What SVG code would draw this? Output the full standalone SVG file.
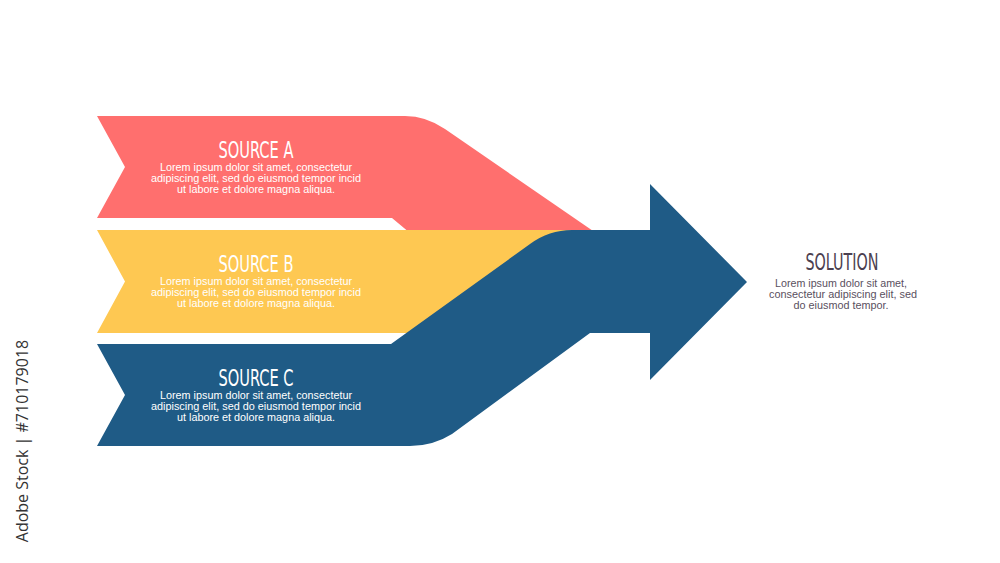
<svg xmlns="http://www.w3.org/2000/svg" width="1000" height="563" viewBox="0 0 1000 563">
<style>
.title{font-family:"DejaVu Sans Condensed","DejaVu Sans",sans-serif;font-size:23px;fill:#ffffff;text-anchor:middle}
.body{font-family:"Liberation Sans",Arial,sans-serif;font-size:10px;fill:#ffffff;text-anchor:middle}
.stitle{font-family:"DejaVu Sans Condensed","DejaVu Sans",sans-serif;font-size:23px;fill:#4b4050;text-anchor:middle}
.sbody{font-family:"Liberation Sans",Arial,sans-serif;font-size:10px;fill:#5a5060;text-anchor:middle}
</style>
<rect width="1000" height="563" fill="#ffffff"/>
<g id="source-a">
<path d="M97,116 H405 Q426,116 445,129 L596,233 L410,233 L392,218 H97 L125,167 Z" fill="#FF6F6E"/>
</g>
<g id="source-b">
<path d="M97,230 H580 V333 H97 L125,281.5 Z" fill="#FEC852"/>
</g>
<g id="connectors">
<path id="source-c-arrow" d="M97,344 H391 L530,244 Q549,230 572,230 H650 V184 L747,282 L650,380 V333 H590 L452,434 Q433,446 410,446 H97 L125,395 Z" fill="#1F5B86"/>
</g>
<g id="source-a-text">
<text class="title" x="256" y="158" textLength="75" lengthAdjust="spacingAndGlyphs">SOURCE A</text>
<text class="body" x="256" y="170.5" textLength="192" lengthAdjust="spacingAndGlyphs">Lorem ipsum dolor sit amet, consectetur</text>
<text class="body" x="256" y="181.5" textLength="210" lengthAdjust="spacingAndGlyphs">adipiscing elit, sed do eiusmod tempor incid</text>
<text class="body" x="256" y="192.5" textLength="158" lengthAdjust="spacingAndGlyphs">ut labore et dolore magna aliqua.</text>
</g>
<g id="source-b-text">
<text class="title" x="256" y="272" textLength="75" lengthAdjust="spacingAndGlyphs">SOURCE B</text>
<text class="body" x="256" y="284.5" textLength="192" lengthAdjust="spacingAndGlyphs">Lorem ipsum dolor sit amet, consectetur</text>
<text class="body" x="256" y="295.5" textLength="210" lengthAdjust="spacingAndGlyphs">adipiscing elit, sed do eiusmod tempor incid</text>
<text class="body" x="256" y="306.5" textLength="158" lengthAdjust="spacingAndGlyphs">ut labore et dolore magna aliqua.</text>
</g>
<g id="source-c">
<text class="title" x="256" y="386" textLength="75" lengthAdjust="spacingAndGlyphs">SOURCE C</text>
<text class="body" x="256" y="398.5" textLength="192" lengthAdjust="spacingAndGlyphs">Lorem ipsum dolor sit amet, consectetur</text>
<text class="body" x="256" y="409.5" textLength="210" lengthAdjust="spacingAndGlyphs">adipiscing elit, sed do eiusmod tempor incid</text>
<text class="body" x="256" y="420.5" textLength="158" lengthAdjust="spacingAndGlyphs">ut labore et dolore magna aliqua.</text>
</g>
<g id="solution">
<text class="stitle" x="842" y="270" textLength="73" lengthAdjust="spacingAndGlyphs">SOLUTION</text>
<text class="sbody" x="841" y="287" textLength="132" lengthAdjust="spacingAndGlyphs">Lorem ipsum dolor sit amet,</text>
<text class="sbody" x="843" y="298" textLength="148" lengthAdjust="spacingAndGlyphs">consectetur adipiscing elit, sed</text>
<text class="sbody" x="841" y="309" textLength="95" lengthAdjust="spacingAndGlyphs">do eiusmod tempor.</text>
</g>
<g id="watermark">
<text x="0" y="0" transform="translate(28,441) rotate(-90)" font-family="'Open Sans','Noto Sans',sans-serif" font-size="16" fill="#333333" text-anchor="middle">Adobe Stock | #710179018</text>
</g>
</svg>
